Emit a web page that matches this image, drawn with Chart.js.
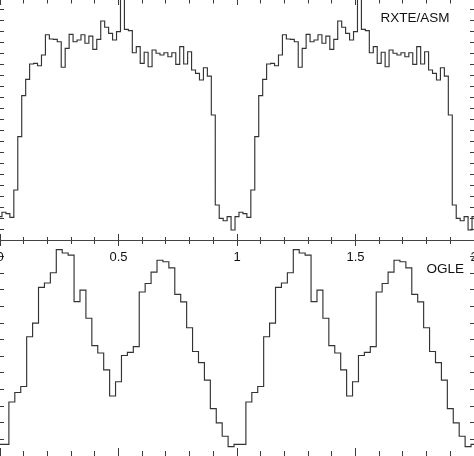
<!DOCTYPE html>
<html>
<head>
<meta charset="utf-8">
<script src="https://cdn.jsdelivr.net/npm/chart.js"></script>
<style>
  html, body { margin: 0; padding: 0; background: #fff; }
  #wrap { width: 474px; height: 456px; position: relative; overflow: hidden; }
</style>
</head>
<body>
<div id="wrap"><canvas id="lc" width="474" height="456"></canvas></div>
<script>
// folded light curves, one cycle each, in units of one y tick (no values on the axes)
// bins are centred on k/N, plotted over two cycles
const asmRate = [
  2.13, 2.53, 2.40, 2.07, 4.56, 9.43, 13.17, 14.66, 16.06, 16.12,
  15.90, 16.88, 18.73, 18.34, 18.31, 18.09, 15.76, 17.49, 18.77, 18.09,
  18.25, 18.73, 17.95, 18.61, 17.40, 18.31, 19.98, 19.41, 18.86, 18.25,
  19.01, 23.50, 19.22, 19.10, 17.09, 17.64, 16.12, 17.13, 15.81, 17.34,
  17.04, 16.88, 17.09, 16.72, 17.09, 16.03, 17.64, 16.06, 17.18, 15.51,
  15.21, 14.60, 15.72, 14.96, 11.41, 3.19, 1.98, 1.76, 2.13, 0.91
];
const ogleFlux = [
  0.70, 0.70, 3.25, 3.82, 4.18, 7.18, 8.00, 10.15, 10.41, 11.03,
  12.42, 12.22, 12.09, 9.29, 9.98, 8.29, 6.64, 6.20, 5.18, 3.61,
  4.47, 6.05, 6.24, 6.58, 9.87, 10.38, 11.07, 11.78, 11.69, 11.32,
  9.73, 9.28, 7.72, 6.29, 5.62, 4.57, 2.85, 1.99, 1.19, 0.56
];
const phaseLabels = [0, 0.5, 1, 1.5, 2];
const panelNames = ['RXTE/ASM', 'OGLE'];
const nCycles = 2;

function foldedPoints(vals) {
  const n = vals.length, pts = [];
  for (let k = 0; k <= n * nCycles; k++) pts.push({ x: k / n, y: vals[k % n] });
  return pts;
}

const ink = '#3a3a3a';
const font = { family: '"Liberation Sans", Arial, Helvetica, sans-serif', size: 13 };

// axes take no room: the plot fills the whole canvas, ticks point inwards
const flatX = s => { s.height = 0; s.paddingLeft = 0; s.paddingRight = 0; };
const flatY = s => { s.width = 0; s.paddingTop = 0; s.paddingBottom = 0; };
const majors = s => { s.ticks = phaseLabels.map(v => ({ value: v })); };

function phaseAxis(position, len, major, labels) {
  return {
    type: 'linear', axis: 'x', position: position, min: 0, max: 2,
    border: { display: false },
    grid: { drawOnChartArea: false, tickLength: len, tickColor: ink, tickWidth: 1 },
    ticks: {
      display: !!labels, stepSize: 0.1, maxTicksLimit: 1000, autoSkip: false,
      maxRotation: 0, minRotation: 0, padding: 4, color: '#111', font: font,
      callback: v => String(v)
    },
    afterBuildTicks: major ? majors : undefined,
    afterFit: flatX
  };
}

function fluxAxis(position, stack, weight, size, max) {
  return {
    type: 'linear', axis: 'y', position: position, stack: stack, stackWeight: size,
    weight: weight, min: 0, max: max,
    border: { display: false },
    grid: { drawOnChartArea: false, tickLength: -4, tickColor: ink, tickWidth: 1 },
    ticks: { display: false, stepSize: 1, maxTicksLimit: 1000, includeBounds: false },
    afterFit: flatY
  };
}

const mid = { yA: 0 };
const midLine = phaseAxis(mid, -4, false, false);
midLine.border = { display: true, color: '#444', width: 1 };

const panelLabels = {
  id: 'panelLabels',
  afterDraw(chart) {
    const { ctx, scales } = chart;
    ctx.save();
    ctx.font = '13.5px "Liberation Sans", Arial, Helvetica, sans-serif';
    ctx.fillStyle = '#111';
    ctx.textBaseline = 'alphabetic';
    ctx.fillText(panelNames[0], scales.x.getPixelForValue(1.605), scales.yA.getPixelForValue(19.9));
    ctx.fillText(panelNames[1], scales.x.getPixelForValue(1.800), scales.yB.getPixelForValue(11.0));
    ctx.restore();
  }
};

new Chart(document.getElementById('lc'), {
  type: 'line',
  data: {
    datasets: [
      {
        label: panelNames[0], data: foldedPoints(asmRate), xAxisID: 'x', yAxisID: 'yA',
        stepped: 'middle', borderColor: '#333', borderWidth: 1.15, pointRadius: 0, fill: false
      },
      {
        label: panelNames[1], data: foldedPoints(ogleFlux), xAxisID: 'x', yAxisID: 'yB',
        stepped: 'middle', borderColor: '#333', borderWidth: 1.15, pointRadius: 0, fill: false
      }
    ]
  },
  options: {
    responsive: false,
    animation: false,
    layout: { padding: 0 },
    plugins: { legend: { display: false }, tooltip: { enabled: false } },
    scales: {
      x: phaseAxis('bottom', -5, false, false),
      xBotMaj: phaseAxis('bottom', -8, true, false),
      xTop: phaseAxis('top', -3.5, false, false),
      xTopMaj: phaseAxis('top', -5, true, false),
      xMid: midLine,
      xMidDn: phaseAxis(mid, 4, false, false),
      xMidMajUp: phaseAxis(mid, -6, true, false),
      xMidMaj: phaseAxis(mid, 6, true, true),
      yA: fluxAxis('left', 'L', 2, 240, 21.9),
      yB: fluxAxis('left', 'L', 1, 216, 13),
      yAR: fluxAxis('right', 'R', 1, 240, 21.9),
      yBR: fluxAxis('right', 'R', 2, 216, 13)
    }
  },
  plugins: [panelLabels]
});
</script>
</body>
</html>
